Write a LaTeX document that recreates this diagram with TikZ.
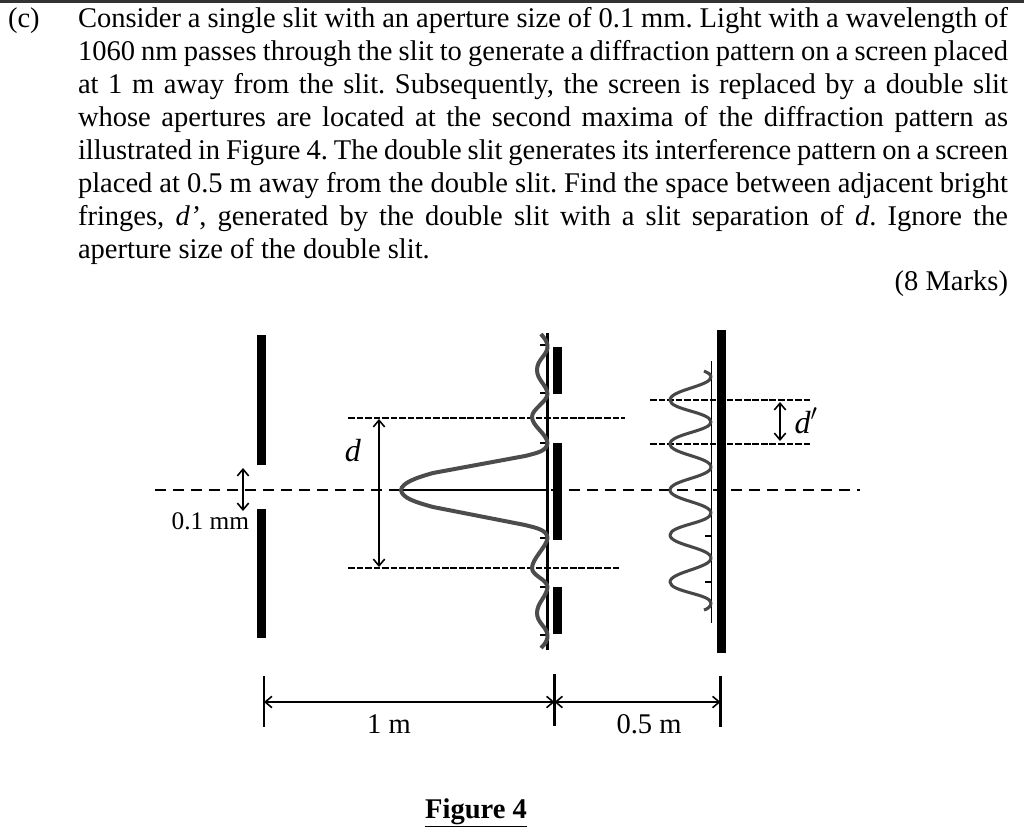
\documentclass[tikz,border=0pt]{standalone}
\usepackage{fontspec}
\setmainfont{Liberation Serif}
\usetikzlibrary{arrows.meta}
\newcommand{\jline}[1]{\frenchspacing\makebox[697.5pt][s]{#1}}
\tikzset{
  >={Straight Barb[length=5pt,width=8.5pt,line width=1.2pt]},
  body/.style={anchor=base west,inner sep=0pt,outer sep=0pt,font=\fontsize{21.4}{24}\selectfont\frenchspacing},
  lab/.style={inner sep=0pt,outer sep=0pt,font=\fontsize{21.4}{24}\selectfont},
  bar/.style={fill=black,draw=none},
  axisdash/.style={line width=1.8pt,dash pattern=on 8pt off 5.5pt,black},
  fine/.style={line width=1.8pt,dash pattern=on 5pt off 1.4pt,black},
  wave/.style={line width=3pt,black!70,line join=round},
  wavetwo/.style={line width=2.3pt,black!72,line join=round},
  dim/.style={line width=1.5pt,<->,black},
  tick/.style={line width=1.6pt,black}
}
\begin{document}
\begin{tikzpicture}[x=0.75pt,y=-0.75pt]
\useasboundingbox (0,0) rectangle (1024,839);
\fill[white] (0,0) rectangle (1024,839);
\fill[black!80] (0,0) rectangle (1024,2.5);
% question text
\node[body] (lc) at (8,27) {(c)};
\node[body] (l1) at (78,27) {\jline{Consider a single slit with an aperture size of 0.1 mm. Light with a wavelength of}};
\node[body] (l2) at (78,60) {\jline{1060 nm passes through the slit to generate a diffraction pattern on a screen placed}};
\node[body] (l3) at (78,93) {\jline{at 1 m away from the slit. Subsequently, the screen is replaced by a double slit}};
\node[body] (l4) at (78,126) {\jline{whose apertures are located at the second maxima of the diffraction pattern as}};
\node[body] (l5) at (78,159) {\jline{illustrated in Figure 4. The double slit generates its interference pattern on a screen}};
\node[body] (l6) at (78,192) {\jline{placed at 0.5 m away from the double slit. Find the space between adjacent bright}};
\node[body] (l7) at (78,225) {\jline{fringes, \textit{d’}, generated by the double slit with a slit separation of \textit{d}. Ignore the}};
\node[body] (l8) at (78,258) {aperture size of the double slit.};
\node[body,anchor=base east] (marks) at (1008,290) {(8 Marks)};
% single slit
\fill[bar] (257,335) rectangle (266,465);
\fill[bar] (257,509) rectangle (266,638);
% double slit
\fill[bar] (553,347) rectangle (562,394);
\fill[bar] (553,443) rectangle (562,540);
\fill[bar] (553,587) rectangle (562,634);
% final screen
\fill[bar] (717,330) rectangle (726,653);
% thin axes
\coordinate (a1) at (547.5,333);
\coordinate (a2) at (547.5,650);
\draw[line width=1.8pt] (a1) -- (a2);
\coordinate (b1) at (711.5,361);
\coordinate (b2) at (711.5,623);
\draw[line width=1.1pt] (b1) -- (b2);
% axis ticks
\foreach \yy in {345,393,443,538,587,635} \draw[line width=1pt] (540,\yy) -- (547.5,\yy);
\foreach \yy in {536,582} \draw[line width=1pt] (705,\yy) -- (711.5,\yy);
% dashed lines
\coordinate (c1) at (155,490);
\coordinate (c2) at (860,490);
\draw[axisdash] (c1) -- (c2);
\coordinate (c3) at (401,490);
\coordinate (c4) at (547.5,490);
\draw[line width=1.8pt] (c3) -- (c4);
\coordinate (e1) at (348,418);
\coordinate (e2) at (625,418);
\draw[fine] (e1) -- (e2);
\coordinate (e3) at (348,568);
\coordinate (e4) at (621,568);
\draw[fine] (e3) -- (e4);
\coordinate (f1) at (650,400);
\coordinate (f2) at (812,400);
\draw[fine] (f1) -- (f2);
\coordinate (f3) at (650,444);
\coordinate (f4) at (812,444);
\draw[fine] (f3) -- (f4);
% diffraction pattern
\draw[wave] (541,334) .. controls (545,339) and (548,342) .. (547.5,348)
  .. controls (546,356) and (537,360) .. (537,370)
  .. controls (537,380) and (547,385) .. (547.5,394)
  .. controls (547,402) and (532,409) .. (532,417)
  .. controls (532,426) and (547,434) .. (547.5,443)
  .. controls (547,451) and (537,453) .. (525,456)
  -- (433,473) .. controls (415,478) and (402,483) .. (401,490)
  .. controls (402,498) and (415,502) .. (433,507)
  -- (525,525) .. controls (537,528) and (547,530) .. (547.5,538)
  .. controls (547,546) and (532,559) .. (532,568)
  .. controls (532,576) and (547,579) .. (547.5,587)
  .. controls (547,596) and (537,603) .. (537,613)
  .. controls (537,623) and (547,627) .. (547.5,635)
  .. controls (548,640) and (545,644) .. (541,648);
% interference pattern
\draw[wavetwo] (704,371) .. controls (708,373) and (711,374) .. (711,377)
  .. controls (711,386) and (670,390) .. (670,400)
  .. controls (670,410) and (711,412) .. (711,422)
  .. controls (711,431) and (670,434) .. (670,444)
  .. controls (670,454) and (711,457) .. (711,467)
  .. controls (711,477) and (670,480) .. (670,490)
  .. controls (670,500) and (711,503) .. (711,513)
  .. controls (711,523) and (670,525) .. (670,535)
  .. controls (670,545) and (711,548) .. (711,558)
  .. controls (711,568) and (670,572) .. (670,582)
  .. controls (670,592) and (711,594) .. (711,603)
  .. controls (711,606) and (708,609) .. (704,610);
% dimension arrows
\coordinate (g1) at (243,468);
\coordinate (g2) at (243,511);
\draw[dim,line width=1.8pt] (g1) -- (g2);
\coordinate (h1) at (379,419);
\coordinate (h2) at (379,567);
\draw[dim] (h1) -- (h2);
\coordinate (i1) at (780,402);
\coordinate (i2) at (780,441);
\draw[dim,line width=1.8pt] (i1) -- (i2);
% distance bar
\coordinate (t1a) at (264,676);
\coordinate (t1b) at (264,727);
\coordinate (t2a) at (554.5,674);
\coordinate (t2b) at (554.5,726);
\coordinate (t3a) at (720.5,676);
\coordinate (t3b) at (720.5,727);
\draw[tick] (t1a) -- (t1b);
\draw[tick] (t2a) -- (t2b);
\draw[tick] (t3a) -- (t3b);
\coordinate (m1) at (264,702);
\coordinate (m2) at (554.5,702);
\coordinate (m3) at (720.5,702);
\draw[dim] (m1) -- (m2);
\draw[dim] (m2) -- (m3);
% labels
\node[lab,anchor=base east,font=\fontsize{19}{24}\selectfont] (lmm) at (249,529) {0.1 mm};
\node[lab,anchor=base] (ld) at (353,461) {\fontsize{24}{24}\selectfont\textit{d}};
\node[lab,anchor=base] (ldp) at (806,433) {\fontsize{24}{24}\selectfont\textit{d$'$}};
\node[lab,anchor=base] (l1m) at (389,733) {1 m};
\node[lab,anchor=base] (l05) at (649,733) {0.5 m};
\node[lab,anchor=base] (fig) at (476,818) {\bfseries\underline{Figure 4}};
\end{tikzpicture}
\end{document}
